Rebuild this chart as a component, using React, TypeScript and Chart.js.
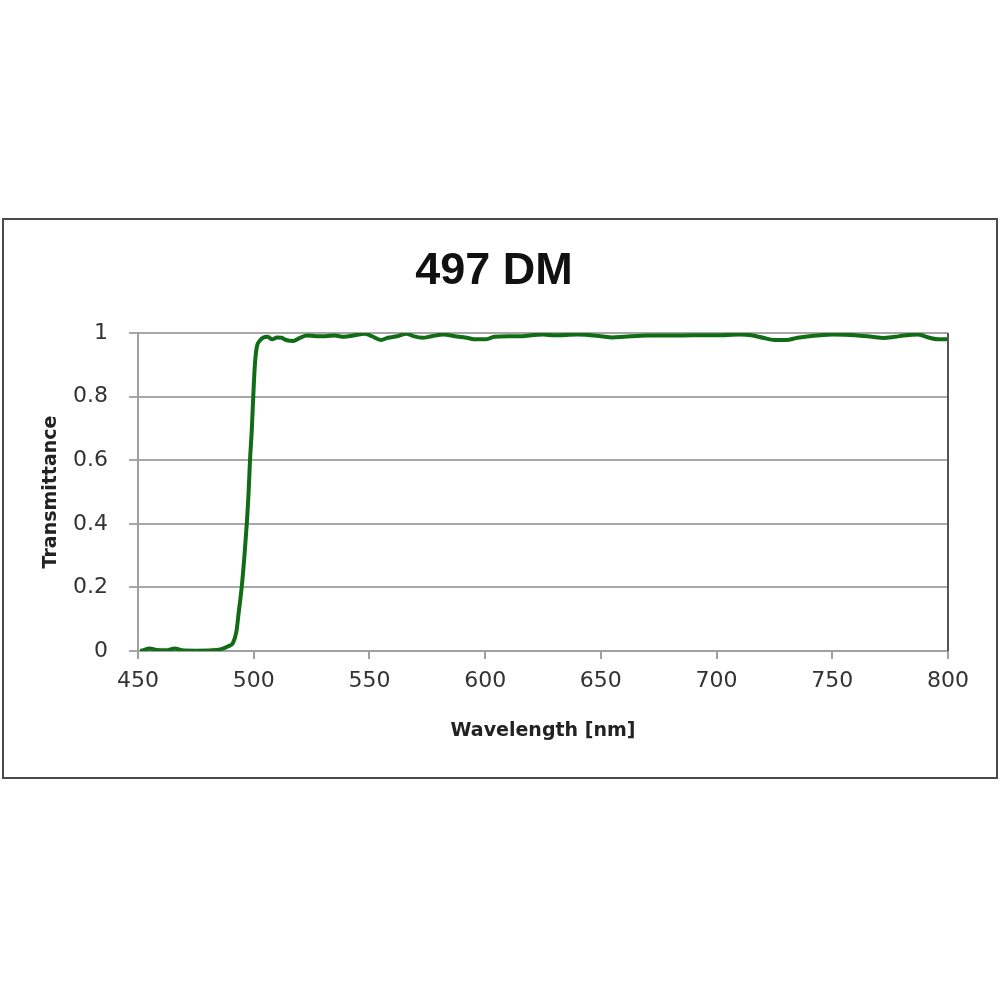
import React, { useEffect, useRef } from "react";
import { Chart, registerables } from "chart.js";

Chart.register(...registerables);

const chartTitle = "497 DM";
const xAxisTitle = "Wavelength [nm]";
const yAxisTitle = "Transmittance";

const wavelengths = [
  451, 452, 455, 458, 462, 466, 469, 475, 482, 486, 489, 491, 492.5, 493.5, 494.8, 496, 497, 497.8,
  498.4, 499.2, 499.8, 500.5, 501.3, 502.5, 504, 506, 508, 510, 512, 514, 517, 520, 523, 527, 531,
  535, 539, 543, 548, 551, 555, 558, 562, 566, 569, 573, 577, 582, 587, 592, 596, 600, 604, 610,
  615, 620, 625, 630, 640, 650, 655, 660, 670, 680, 690, 700, 710, 715, 720, 725, 730, 735, 740,
  745, 750, 760, 767, 772, 777, 782, 787, 792, 796, 800,
];
const transmittance = [
  0.0, 0.002, 0.008, 0.003, 0.002, 0.008, 0.002, 0.001, 0.002, 0.006, 0.015, 0.025, 0.06, 0.12,
  0.2, 0.3, 0.4, 0.5, 0.6, 0.7, 0.8, 0.9, 0.955, 0.975, 0.985, 0.988, 0.98, 0.986, 0.985, 0.978,
  0.975, 0.985, 0.992, 0.99, 0.99, 0.992, 0.988, 0.992, 0.998, 0.99, 0.978, 0.985, 0.99, 0.998,
  0.99, 0.985, 0.99, 0.995, 0.99, 0.985, 0.98, 0.98, 0.988, 0.99, 0.99, 0.993, 0.995, 0.993, 0.995,
  0.99, 0.986, 0.988, 0.992, 0.992, 0.993, 0.993, 0.995, 0.993, 0.985, 0.978, 0.978, 0.985, 0.99,
  0.993, 0.995, 0.993, 0.988, 0.984, 0.988, 0.993, 0.995, 0.985, 0.98, 0.98,
];

const xMin = 450;
const xMax = 800;
const xStep = 50;
const yMin = 0;
const yMax = 1;
const yStep = 0.2;

const framePlugin = {
  id: "frame",
  beforeDraw(chart: any) {
    const ctx = chart.ctx;
    ctx.save();
    ctx.fillStyle = "#ffffff";
    ctx.fillRect(0, 0, chart.width, chart.height);
    ctx.strokeStyle = "#4a4a4a";
    ctx.lineWidth = 2;
    ctx.strokeRect(3, 219, 994, 559);
    ctx.restore();
  },
  afterDatasetsDraw(chart: any) {
    const { ctx, chartArea } = chart;
    ctx.save();
    ctx.strokeStyle = "#555555";
    ctx.lineWidth = 2;
    ctx.beginPath();
    ctx.moveTo(chartArea.right, chartArea.top);
    ctx.lineTo(chartArea.right, chartArea.bottom);
    ctx.stroke();
    ctx.restore();
  },
};

export default function App() {
  const ref = useRef<HTMLCanvasElement | null>(null);

  useEffect(() => {
    if (!ref.current) return;
    const points = wavelengths.map((w, i) => ({ x: w, y: transmittance[i] }));
    const chart = new Chart(ref.current, {
      type: "line",
      data: {
        datasets: [
          {
            data: points,
            borderColor: "#116c16",
            borderWidth: 4,
            pointRadius: 0,
            fill: false,
            cubicInterpolationMode: "monotone",
          },
        ],
      },
      options: {
        animation: false,
        responsive: false,
        maintainAspectRatio: false,
        layout: { padding: { top: 238, left: 40, right: 52, bottom: 249 } },
        plugins: {
          legend: { display: false },
          tooltip: { enabled: false },
          title: {
            display: true,
            text: chartTitle,
            color: "#111111",
            font: { family: "Liberation Sans", size: 45, weight: "bold" },
            padding: { top: 7, bottom: 34 },
          },
        },
        scales: {
          x: {
            type: "linear",
            min: xMin,
            max: xMax,
            afterFit: (s: any) => {
              s.height = 100;
            },
            ticks: {
              stepSize: xStep,
              color: "#333333",
              font: { family: "DejaVu Sans", size: 22 },
              padding: 9,
              maxRotation: 0,
            },
            grid: {
              drawOnChartArea: false,
              drawTicks: true,
              tickLength: 8,
              color: "#a0a0a0",
              lineWidth: 2,
            },
            border: { display: true, color: "#a0a0a0", width: 2 },
            title: {
              display: true,
              text: xAxisTitle,
              color: "#222222",
              font: { family: "DejaVu Sans", size: 19, weight: "bold" },
              padding: { top: 0, bottom: 9 },
            },
          },
          y: {
            type: "linear",
            min: yMin,
            max: yMax,
            afterFit: (s: any) => {
              s.width = 98;
            },
            ticks: {
              stepSize: yStep,
              color: "#333333",
              font: { family: "DejaVu Sans", size: 22 },
              padding: 21,
              callback: (v: any) => String(Math.round(Number(v) * 10) / 10),
            },
            grid: {
              drawTicks: true,
              tickLength: 9,
              color: "#a8a8a8",
              lineWidth: 2,
            },
            border: { display: true, color: "#a0a0a0", width: 2 },
            title: {
              display: true,
              text: yAxisTitle,
              color: "#222222",
              font: { family: "DejaVu Sans", size: 19, weight: "bold" },
              padding: { top: 0, bottom: 0 },
            },
          },
        },
      },
      plugins: [framePlugin],
    });
    return () => chart.destroy();
  }, []);

  return (
    <div style={{ position: "absolute", left: 0, top: 0, width: 1000, height: 1000, background: "#fff" }}>
      <canvas ref={ref} width={1000} height={1000} style={{ width: 1000, height: 1000, display: "block" }} />
    </div>
  );
}
